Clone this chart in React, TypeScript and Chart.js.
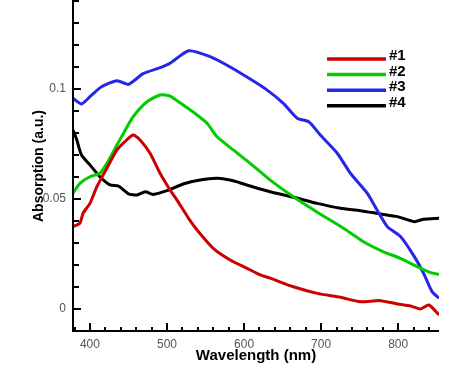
import React, { useEffect, useRef } from "react";
import { Chart, registerables } from "chart.js";

Chart.register(...registerables);

// ---- data ----
const seriesNames = ["#1", "#2", "#3", "#4"];
const seriesColors = ["#cc0000", "#00cc00", "#2626e6", "#000000"];

const wl1 = [378, 387, 391, 400, 409, 422, 435, 443, 456, 465, 478, 491, 504, 513, 528, 539, 560, 582, 604, 621, 634, 664, 695, 725, 751, 777, 799, 816, 829, 840, 853];
const abs1 = [0.0374, 0.039, 0.0435, 0.048, 0.0556, 0.064, 0.0723, 0.0753, 0.0791, 0.0768, 0.0708, 0.0617, 0.0541, 0.0495, 0.0412, 0.0359, 0.0276, 0.0223, 0.0185, 0.0155, 0.014, 0.0101, 0.0071, 0.0053, 0.0033, 0.0038, 0.0023, 0.0014, 0.0, 0.0018, -0.0027];

const wl2 = [378, 387, 400, 413, 422, 435, 446, 456, 474, 491, 504, 521, 539, 552, 565, 586, 608, 634, 664, 695, 729, 755, 781, 803, 825, 842, 853];
const abs2 = [0.0526, 0.0571, 0.0601, 0.0617, 0.0662, 0.0745, 0.0814, 0.0874, 0.0942, 0.0973, 0.0968, 0.0927, 0.0882, 0.0844, 0.0783, 0.0723, 0.0662, 0.0586, 0.051, 0.044, 0.0367, 0.0306, 0.026, 0.023, 0.0192, 0.0165, 0.0158];

const wl3 = [378, 389, 400, 415, 435, 450, 469, 491, 504, 528, 556, 582, 608, 630, 651, 669, 684, 699, 721, 738, 760, 775, 786, 803, 821, 833, 844, 853];
const abs3 = [0.0958, 0.0932, 0.0965, 0.101, 0.1038, 0.1021, 0.107, 0.1097, 0.1117, 0.1174, 0.1147, 0.11, 0.1045, 0.0995, 0.0935, 0.0867, 0.0851, 0.0791, 0.0708, 0.0617, 0.0526, 0.0435, 0.0374, 0.0329, 0.0238, 0.0162, 0.0079, 0.0049];

const wl4 = [378, 383, 389, 400, 413, 426, 437, 450, 461, 472, 482, 500, 521, 543, 565, 586, 608, 634, 664, 695, 725, 751, 777, 799, 821, 833, 853];
const abs4 = [0.0814, 0.0768, 0.07, 0.0655, 0.0601, 0.0564, 0.0559, 0.0523, 0.0518, 0.0533, 0.0521, 0.0538, 0.0568, 0.0586, 0.0594, 0.0583, 0.0559, 0.0533, 0.0508, 0.048, 0.0458, 0.0447, 0.0432, 0.042, 0.0397, 0.0408, 0.0412];

const xTickValues = [400, 500, 600, 700, 800];
const yTickValues = [0, 0.05, 0.1];
const xMinorStep = 20;
const yMinorStep = 0.01;

const xTitle = "Wavelength (nm)";
const yTitle = "Absorption (a.u.)";

const FONT = "'Liberation Sans', Arial, sans-serif";

const toPoints = (xs: number[], ys: number[]) => xs.map((x, i) => ({ x, y: ys[i] }));

const decorPlugin = {
  id: "decor",
  afterDraw(chart: any) {
    const { ctx, chartArea, scales } = chart;
    const xs = scales.x;
    const ys = scales.y;
    ctx.save();
    ctx.strokeStyle = "#000";
    ctx.lineWidth = 2;
    ctx.lineCap = "butt";
    // axis lines
    ctx.beginPath();
    ctx.moveTo(chartArea.left, 0);
    ctx.lineTo(chartArea.left, chartArea.bottom);
    ctx.lineTo(chartArea.right, chartArea.bottom);
    ctx.stroke();
    // x ticks (inward)
    ctx.beginPath();
    const xStart = Math.ceil(xs.min / xMinorStep) * xMinorStep;
    for (let v = xStart; v <= xs.max + 1e-9; v += xMinorStep) {
      const px = Math.round(xs.getPixelForValue(v));
      const major = xTickValues.includes(v);
      ctx.moveTo(px, chartArea.bottom);
      ctx.lineTo(px, chartArea.bottom - (major ? 8 : 4));
    }
    ctx.stroke();
    // y ticks (inward)
    ctx.beginPath();
    const n = Math.round((ys.max - ys.min) / yMinorStep);
    for (let i = 0; i <= n; i++) {
      const v = ys.min + i * yMinorStep;
      const py = Math.round(ys.getPixelForValue(v));
      const major = yTickValues.some((t) => Math.abs(t - v) < 1e-6);
      ctx.moveTo(chartArea.left, py);
      ctx.lineTo(chartArea.left + (major ? 8 : 6), py);
    }
    ctx.stroke();
    // legend
    const lx0 = 327, lx1 = 386, ly0 = 59, ldy = 15.6;
    chart.data.datasets.forEach((ds: any, i: number) => {
      const y = ly0 + i * ldy;
      ctx.strokeStyle = ds.borderColor;
      ctx.lineWidth = 3.5;
      ctx.beginPath();
      ctx.moveTo(lx0, y);
      ctx.lineTo(lx1, y);
      ctx.stroke();
      ctx.fillStyle = "#000";
      ctx.font = `bold 15px ${FONT}`;
      ctx.textAlign = "left";
      ctx.textBaseline = "middle";
      ctx.fillText(ds.label, 389, y - 3);
    });
    ctx.restore();
  },
};

export default function App() {
  const ref = useRef<HTMLCanvasElement>(null);
  useEffect(() => {
    if (!ref.current) return;
    const xsList = [wl1, wl2, wl3, wl4];
    const ysList = [abs1, abs2, abs3, abs4];
    const chart = new Chart(ref.current, {
      type: "line",
      data: {
        datasets: seriesNames.map((name, i) => ({
          label: name,
          data: toPoints(xsList[i], ysList[i]),
          borderColor: seriesColors[i],
          backgroundColor: seriesColors[i],
          borderWidth: 3,
          pointRadius: 0,
          tension: 0.2,
          fill: false,
        })),
      },
      options: {
        animation: false,
        responsive: false,
        devicePixelRatio: 1,
        layout: { padding: { top: 1, right: 35, left: 0, bottom: 0 } },
        plugins: { legend: { display: false }, tooltip: { enabled: false } },
        scales: {
          x: {
            type: "linear",
            min: 378,
            max: 853,
            grid: { display: false, drawTicks: false },
            border: { display: false },
            afterBuildTicks: (s: any) => {
              s.ticks = xTickValues.map((v) => ({ value: v }));
            },
            afterFit: (s: any) => {
              s.height = 42;
              s.paddingLeft = 0;
              s.paddingRight = 0;
              s.paddingTop = 0;
              s.paddingBottom = 0;
            },
            ticks: {
              autoSkip: false,
              maxRotation: 0,
              padding: 6,
              color: "#555",
              font: { family: FONT, size: 12 },
              callback: (v: any) => String(v),
            },
            title: {
              display: true,
              text: xTitle,
              color: "#000",
              font: { family: FONT, size: 15, weight: "bold" },
              padding: { top: 0, bottom: 8 },
            },
          },
          y: {
            type: "linear",
            min: -0.01,
            max: 0.14,
            grid: { display: false, drawTicks: false },
            border: { display: false },
            afterBuildTicks: (s: any) => {
              s.ticks = yTickValues.map((v) => ({ value: v }));
            },
            afterFit: (s: any) => {
              s.width = 73;
              s.paddingLeft = 0;
              s.paddingRight = 0;
              s.paddingTop = 0;
              s.paddingBottom = 0;
            },
            ticks: {
              autoSkip: false,
              padding: 7,
              color: "#555",
              font: { family: FONT, size: 12 },
              callback: (v: any) => String(v),
            },
            title: {
              display: true,
              text: yTitle,
              color: "#000",
              font: { family: FONT, size: 14, weight: "bold" },
              padding: { top: 31, bottom: 0 },
            },
          },
        },
      },
      plugins: [decorPlugin],
    });
    return () => chart.destroy();
  }, []);
  return (
    <div style={{ position: "absolute", left: 0, top: 0, width: 474, height: 373, background: "#fff" }}>
      <canvas ref={ref} width={474} height={373} style={{ display: "block" }} />
    </div>
  );
}
